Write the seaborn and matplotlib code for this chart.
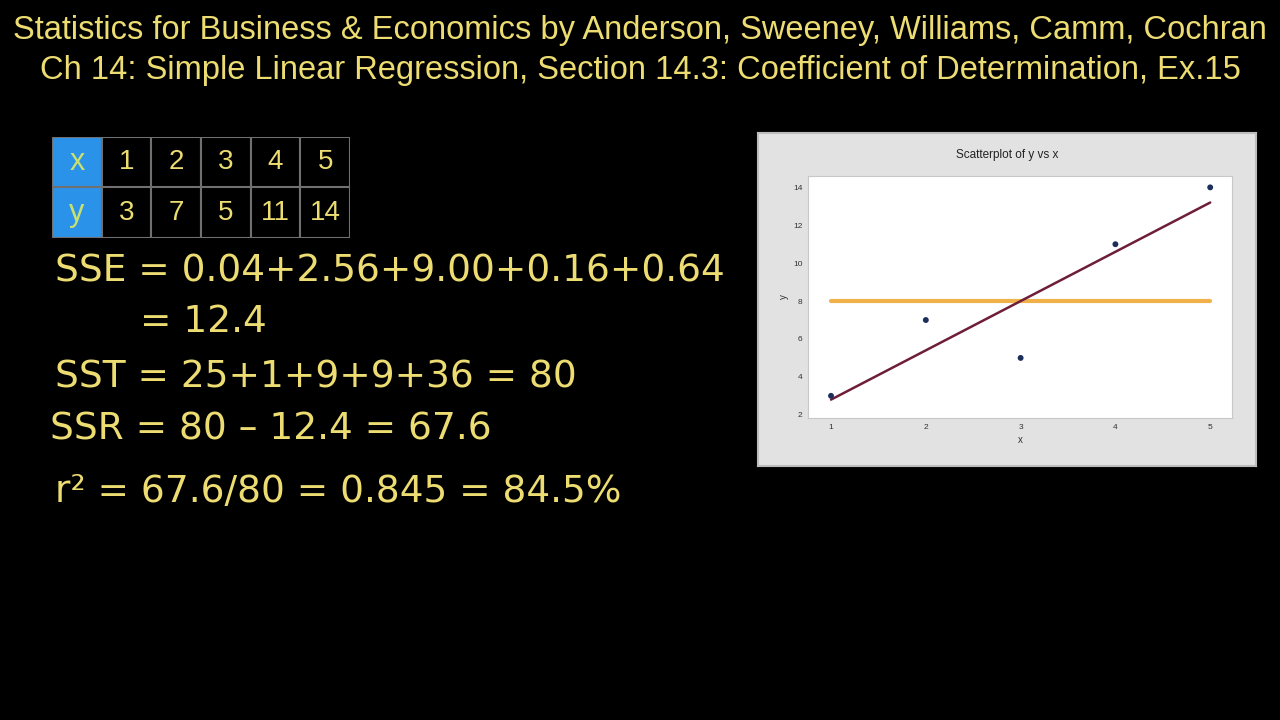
import matplotlib
matplotlib.use("Agg")
import matplotlib.pyplot as plt
import seaborn as sns
import pandas as pd
import numpy as np
from matplotlib.patches import Rectangle

# data from the example (x, y table)
x_vals = [1, 2, 3, 4, 5]
y_vals = [3, 7, 5, 11, 14]

title_lines = [
    "Statistics for Business & Economics by Anderson, Sweeney, Williams, Camm, Cochran",
    "Ch 14: Simple Linear Regression, Section 14.3: Coefficient of Determination, Ex.15",
]
work_lines = [
    ("SSE = 0.04+2.56+9.00+0.16+0.64", 55, 272),
    ("= 12.4", 140, 322),
    ("SST = 25+1+9+9+36 = 80", 55, 377),
    ("SSR = 80 \u2013 12.4 = 67.6", 50, 430),
    ("r\u00b2 = 67.6/80 = 0.845 = 84.5%", 55, 492),
]

W, H = 1280, 720
yellow = "#ecdc72"

sns.set_theme(style="white")
plt.rcParams['font.family'] = ['Liberation Sans', 'DejaVu Sans']

fig = plt.figure(figsize=(12.8, 7.2), dpi=100, facecolor="black")

def fx(px):
    return px / W

def fy(py):
    return 1 - py / H

# title text
fig.text(0.5, fy(30), title_lines[0], color=yellow, fontsize=23.5, ha="center", va="center")
fig.text(0.5, fy(70), title_lines[1], color=yellow, fontsize=23.5, ha="center", va="center")

# x / y table
tab = fig.add_axes([fx(52), fy(238), fx(350 - 52), (238 - 137) / H])
tab.set_xlim(0, 6)
tab.set_ylim(0, 2)
tab.axis("off")
rows = [("x", x_vals), ("y", y_vals)]
for r, (name, vals) in enumerate(rows):
    yy = 1 - r
    tab.add_patch(Rectangle((0, yy), 1, 1, facecolor="#2a92e8", edgecolor="#707070", lw=1.5))
    tab.text(0.5, yy + 0.5, name, color="#c8e070", fontsize=22, ha="center", va="center")
    for c, v in enumerate(vals):
        tab.add_patch(Rectangle((c + 1, yy), 1, 1, facecolor="black", edgecolor="#707070", lw=1.5))
        tab.text(c + 1.5, yy + 0.5, str(v), color=yellow, fontsize=20, ha="center", va="center")

# worked equations
for txt, px, py in work_lines:
    fig.text(fx(px), fy(py), txt, color=yellow, fontsize=27, ha="left", va="center",
             family=["DejaVu Sans"])

# embedded scatterplot panel (grey frame as a background axes)
frame = fig.add_axes([fx(758), fy(466), fx(1256 - 758), (466 - 133) / H])
frame.set_facecolor("#e2e2e2")
frame.set_xticks([])
frame.set_yticks([])
for s in frame.spines.values():
    s.set_color("#bdbdbd")
    s.set_linewidth(1.5)
frame.text(0.5, 1 - (155 - 133) / (466 - 133), "Scatterplot of y vs x", fontsize=8.5,
           color="#222222", ha="center", va="center", transform=frame.transAxes)

ax = fig.add_axes([fx(808), fy(418), fx(1232 - 808), (418 - 176) / H])
ax.set_zorder(3)
ax.set_facecolor("white")

df = pd.DataFrame({"x": x_vals, "y": y_vals})
b1, b0 = np.polyfit(df["x"], df["y"], 1)
df["fit"] = b0 + b1 * df["x"]
df["mean"] = df["y"].mean()

sns.lineplot(data=df, x="x", y="mean", ax=ax, color="#f0b04a", lw=3)
sns.lineplot(data=df, x="x", y="fit", ax=ax, color="#6e1e38", lw=1.8)
sns.scatterplot(data=df, x="x", y="y", ax=ax, color="#1b2f5a", s=18, edgecolor="none", zorder=5)

ax.set_xlim(0.757, 5.23)
ax.set_ylim(1.83, 14.6)
ax.set_xticks(x_vals)
ax.set_yticks([2, 4, 6, 8, 10, 12, 14])
ax.tick_params(labelsize=6, colors="#333333", length=2, pad=2)
ax.set_xlabel("x", fontsize=7, color="#333333", labelpad=3)
ax.set_ylabel("y", fontsize=7, color="#333333", labelpad=3)
for s in ax.spines.values():
    s.set_color("#c8c8c8")
    s.set_linewidth(0.8)

fig.savefig("out.png", dpi=100, facecolor="black")
